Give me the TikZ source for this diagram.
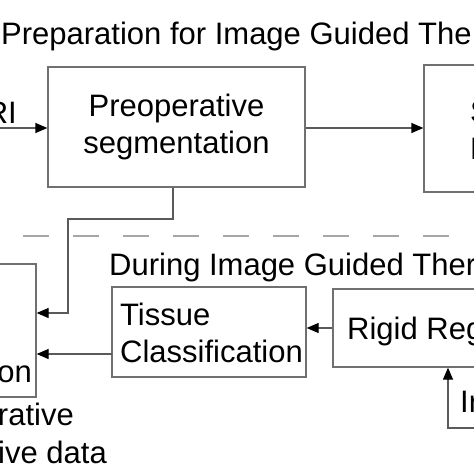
\documentclass[tikz,border=0pt]{standalone}
\usepackage{fontspec}
\setmainfont{Liberation Sans}
\usetikzlibrary{arrows.meta}
\definecolor{edgegray}{HTML}{707070}
\definecolor{conngray}{HTML}{5A5A5A}
\tikzset{
  txt/.style={inner sep=0pt, font=\fontsize{31}{37}\selectfont},
  box/.style={draw=edgegray, line width=1.3pt, inner sep=0pt, fill=white},
  conn/.style={draw=conngray, line width=1.3pt, -{Triangle[length=12pt,width=10pt,color=black,fill=black]}},
  sep/.style={draw=gray!70, line width=2pt, dash pattern=on 26pt off 24pt}
}
\begin{document}
\begin{tikzpicture}[x=1pt,y=-1pt]
\useasboundingbox (0,0) rectangle (474,474);
\fill[white] (0,0) rectangle (474,474);
% titles
\node[txt, anchor=base west] (title1) at (1,44) {Preparation for Image Guided The};
\node[txt, anchor=base west] (title2) at (109,275) {During Image Guided Ther};
% separator
\coordinate (d1) at (23,236);
\coordinate (d2) at (449,236);
\draw[sep] (d1) -- (d2);
% boxes
\node[box, txt, draw=edgegray, line width=1.3pt, minimum width=257pt, minimum height=120pt, align=center] (pre) at (176.5,127) {Preoperative\\segmentation};
\node[box, minimum width=100pt, minimum height=127pt] (surf) at (474,128.5) {};
\node[txt, anchor=base west] (surft1) at (470,122) {S};
\node[txt, anchor=base west] (surft2) at (470,159) {M};
\node[box, minimum width=116pt, minimum height=133pt] (nonrigid) at (-22,330.5) {};
\node[txt, anchor=base east] (nonrigidt) at (32,382) {on};
\node[box, minimum width=194pt, minimum height=90pt] (tissue) at (209,332) {};
\node[txt, align=left, anchor=west] (tissuet) at (120,333) {Tissue\\Classification};
\node[box, minimum width=260pt, minimum height=78pt] (rigid) at (463,328) {};
\node[txt, anchor=base west] (rigidt) at (347,339) {Rigid Reg};
% other labels
\node[txt, anchor=base east] (mri) at (17,123) {RI};
\node[txt, anchor=base east] (data1) at (74,425) {rative};
\node[txt, anchor=base east] (data2) at (107,463) {ive data};
\node[txt, anchor=base west] (intra) at (460,412) {Ir};
% connectors
\coordinate (mriin) at (-2,128);
\draw[conn] (mriin) -- (pre.west |- mriin);
\draw[conn] (pre.east |- mriin) -- (surf.west |- mriin);
\coordinate (k0) at (68,219);
\coordinate (k1) at (68,313);
\draw[conn] ([xshift=-3.5pt]pre.south) |- (k0) -- (k1) -- (k1 -| nonrigid.east);
\draw[conn] (rigid.west) -- (tissue.east |- rigid.west);
\coordinate (k2) at (112,354);
\draw[conn] (k2) -- (k2 -| nonrigid.east);
\coordinate (iin) at (480,428);
\coordinate (k3) at (448,428);
\draw[conn] (iin) -- (k3) -- (rigid.south -| k3);
\end{tikzpicture}
\end{document}
